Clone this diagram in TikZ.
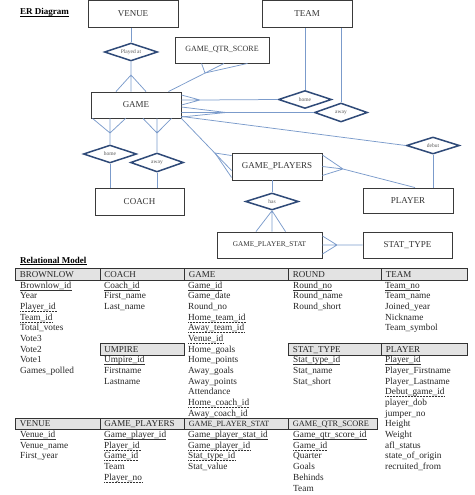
\documentclass[tikz,border=0pt]{standalone}
\usepackage{fontspec}
\setmainfont{Liberation Serif}
\usetikzlibrary{shapes.geometric,calc}
\definecolor{conn}{HTML}{7B9BCB}
\definecolor{dia}{HTML}{2F4A78}
\definecolor{boxc}{HTML}{3A3A3A}
\newcommand\tcol[4]{%
  \foreach \s/\t [count=\i from #3] in {#4} {
    \node[cell,\s] (#1\i) at (#2,{277.4+10.68*\i}) {\t};
  }}
\begin{document}
\begin{tikzpicture}[x=1pt,y=-1pt,
  ent/.style={draw=boxc,line width=0.9pt,fill=white,text=black!80,inner sep=0pt,font=\fontsize{9}{10}\selectfont},
  rel/.style={diamond,aspect=3,draw=dia,line width=1.5pt,fill=white,inner sep=0pt,text=black!65,minimum width=53pt,minimum height=18pt,font=\fontsize{5.5}{6}\selectfont},
  ln/.style={draw=conn,line width=0.75pt},
  hdr/.style={anchor=base west,draw=black!80,fill=gray!22,line width=0.9pt,inner xsep=4.5pt,inner ysep=1.5pt,text height=7pt,text depth=1.5pt,align=left,text=black!85,font=\fontsize{9}{10}\selectfont},
  cell/.style={anchor=base west,inner sep=0pt,text=black!85,font=\fontsize{9.3}{10}\selectfont},
  plain/.style={},
  pkey/.style={append after command={([yshift=-1.7pt]\tikzlastnode.base west) edge[draw=black!80,line width=0.45pt] ([yshift=-1.7pt]\tikzlastnode.base east)}},
  fkey/.style={append after command={([yshift=-1.7pt]\tikzlastnode.base west) edge[draw=black!80,line width=0.5pt,dash pattern=on 0.6pt off 0.9pt] ([yshift=-1.7pt]\tikzlastnode.base east)}},
  ttl/.style={anchor=base west,inner sep=0pt,text=black,font=\bfseries\fontsize{9}{10}\selectfont,
    append after command={([yshift=-1.6pt]\tikzlastnode.base west) edge[draw=black,line width=0.6pt] ([yshift=-1.6pt]\tikzlastnode.base east)}}]
\useasboundingbox (0,0) rectangle (474,495);

% ---------- ER diagram ----------
\node[ttl] (erlabel) at (20,15) {ER Diagram};

\node[ent,minimum width=90pt,minimum height=27pt] (venue) at (133,14) {VENUE};
\node[ent,minimum width=90pt,minimum height=27pt] (team) at (307,14) {TEAM};
\node[ent,minimum width=94pt,minimum height=26pt,font=\fontsize{8}{9}\selectfont] (qtr) at (222,50) {GAME\_QTR\_SCORE};
\node[ent,minimum width=90pt,minimum height=26pt] (game) at (136,105) {GAME};
\node[ent,minimum width=90pt,minimum height=27pt] (gp) at (277,166.5) {GAME\_PLAYERS};
\node[ent,minimum width=90pt,minimum height=25pt] (player) at (408,200.5) {PLAYER};
\node[ent,minimum width=89pt,minimum height=27pt] (coach) at (139.5,201.5) {COACH};
\node[ent,minimum width=105pt,minimum height=26pt,font=\fontsize{7.3}{8}\selectfont] (gps) at (269.5,245) {GAME\_PLAYER\_STAT};
\node[ent,minimum width=89pt,minimum height=26pt] (stype) at (407.5,245) {STAT\_TYPE};

\node[rel] (playedat) at (131,52) {Played at};
\node[rel] (homeR) at (305,99.5) {home};
\node[rel,minimum height=19pt] (awayR) at (341,112.5) {away};
\node[rel,minimum height=17pt] (debut) at (433,145.5) {debut};
\node[rel] (homeL) at (110,154) {home};
\node[rel,minimum height=19pt] (awayL) at (157,162.5) {away};
\node[rel,minimum height=17pt] (has) at (272,201.5) {has};

% VENUE - played at - GAME
\draw[ln] (venue.south -| playedat.north) -- (playedat.north);
\coordinate (f1) at (131,75);
\draw[ln] (playedat.south) -- (f1) (f1) -- ($(game.north)+(-20,0)$) (f1) -- (game.north -| f1) (f1) -- ($(game.north)+(10,0)$);
% GAME - GAME_QTR_SCORE
\coordinate (f2) at (205,73);
\draw[ln] ($(game.north east)+(-13,0)$) -- ($(qtr.south)+(2,0)$);
\draw[ln] (f2) -- ($(qtr.south west)+(27,0)$) (f2) -- ($(qtr.south east)+(-22,0)$);
% TEAM - home/away
\draw[ln] (homeR.north) -- (homeR.north |- team.south);
\draw[ln] (awayR.north) -- (awayR.north |- team.south);
\coordinate (f3) at (200,100);
\draw[ln] (homeR.west) -- (f3) -- ($(game.east)+(0,-5)$) (f3) -- ($(game.east)+(0,-10)$) (f3) -- (game.east);
\coordinate (f4) at (226,112.5);
\draw[ln] (awayR.west) -- (f4) -- ($(game.east)+(0,7.5)$) (f4) -- ($(game.east)+(0,2)$) (f4) -- ($(game.east)+(0,12)$);
% debut
\draw[ln] (debut.west) -- ($(game.south east)+(0,-2)$);
\draw[ln] (debut.south) -- (debut.south |- player.north);
% GAME - GAME_PLAYERS
\coordinate (f6) at (215,153);
\draw[ln] (game.south east) -- ($(gp.west)+(0,4)$);
\draw[ln] (f6) -- ($(gp.north west)+(0,3)$) (f6) -- ($(gp.south west)+(0,-3)$);
% GAME - coach
\coordinate (f7) at (110,133);
\draw[ln] (homeL.north) -- (f7) (f7) -- ($(game.south west)+(2,0)$) (f7) -- (game.south -| f7) (f7) -- ($(game.south west)+(35,0)$);
\coordinate (f8) at (157,133);
\draw[ln] (awayL.north) -- (f8) (f8) -- ($(game.south)+(7,0)$) (f8) -- (game.south -| f8) (f8) -- ($(game.south east)+(-10,0)$);
\draw[ln] (homeL.south) -- (homeL.south |- coach.north);
\draw[ln] (awayL.south) -- (awayL.south |- coach.north);
% GAME_PLAYERS - PLAYER
\coordinate (f9) at (343,169);
\draw[ln] (f9) -- ($(player.north)+(7,0)$) (f9) -- ($(gp.north east)+(0,2.5)$) (f9) -- (gp.east) (f9) -- ($(gp.south east)+(0,-5)$);
% has
\draw[ln] (gp.south -| has.north) -- (has.north);
\draw[ln] (has.south) -- ($(gps.north)+(-13.5,0)$) (has.south) -- (gps.north -| has.south) (has.south) -- ($(gps.north)+(16,0)$);
% GAME_PLAYER_STAT - STAT_TYPE
\coordinate (f10) at (337,245);
\draw[ln] (f10) -- (stype.west) (f10) -- ($(gps.east)+(0,-9)$) (f10) -- (gps.east) (f10) -- ($(gps.east)+(0,9)$);

% ---------- Relational model ----------
\node[ttl] (rmlabel) at (20,263) {Relational Model};

\node[hdr,text width=75.5pt] (hbrown) at (15,277.4) {BROWNLOW};
\node[hdr,text width=75.5pt] (hcoach) at (99.5,277.4) {COACH};
\node[hdr,text width=95pt] (hgame) at (184,277.4) {GAME};
\node[hdr,text width=84pt] (hround) at (288,277.4) {ROUND};
\node[hdr,text width=77pt] (hteam) at (381,277.4) {TEAM};

\node[hdr,text width=75.5pt] (humpire) at (99.5,352.16) {UMPIRE};
\node[hdr,text width=84pt] (hstat) at (288,352.16) {STAT\_TYPE};
\node[hdr,text width=77pt] (hplayer) at (381,352.16) {PLAYER};

\node[hdr,text width=75.5pt] (hvenue) at (15,426.92) {VENUE};
\node[hdr,text width=75.5pt] (hgp) at (99.5,426.92) {GAME\_PLAYERS};
\node[hdr,text width=95pt,font=\fontsize{8}{9}\selectfont] (hgps) at (184,426.92) {GAME\_PLAYER\_STAT};
\node[hdr,text width=80pt,font=\fontsize{8.3}{9}\selectfont] (hgqs) at (288,426.92) {GAME\_QTR\_SCORE};

\tcol{b}{20}{1}{pkey/Brownlow\_id,plain/Year,fkey/Player\_id,fkey/Team\_id,plain/Total\_votes,plain/Vote3,plain/Vote2,plain/Vote1,plain/Games\_polled}
\tcol{co}{104}{1}{pkey/Coach\_id,plain/First\_name,plain/Last\_name}
\tcol{um}{104}{8}{pkey/Umpire\_id,plain/Firstname,plain/Lastname}
\tcol{ga}{188}{1}{pkey/Game\_id,plain/Game\_date,plain/Round\_no,fkey/Home\_team\_id,fkey/Away\_team\_id,fkey/Venue\_id,plain/Home\_goals,plain/Home\_points,plain/Away\_goals,plain/Away\_points,plain/Attendance,fkey/Home\_coach\_id,fkey/Away\_coach\_id}
\tcol{ro}{293}{1}{pkey/Round\_no,plain/Round\_name,plain/Round\_short}
\tcol{st}{293}{8}{pkey/Stat\_type\_id,plain/Stat\_name,plain/Stat\_short}
\tcol{te}{385}{1}{pkey/Team\_no,plain/Team\_name,plain/Joined\_year,plain/Nickname,plain/Team\_symbol}
\tcol{pl}{385}{8}{pkey/Player\_id,plain/Player\_Firstname,plain/Player\_Lastname,fkey/Debut\_game\_id,plain/player\_dob,plain/jumper\_no,plain/Height,plain/Weight,plain/afl\_status,plain/state\_of\_origin,plain/recruited\_from}
\tcol{ve}{20}{15}{pkey/Venue\_id,plain/Venue\_name,plain/First\_year}
\tcol{gl}{104}{15}{pkey/Game\_player\_id,fkey/Player\_id,fkey/Game\_id,plain/Team,fkey/Player\_no}
\tcol{gs}{188}{15}{pkey/Game\_player\_stat\_id,fkey/Game\_player\_id,fkey/Stat\_type\_id,plain/Stat\_value}
\tcol{gq}{293}{15}{pkey/Game\_qtr\_score\_id,fkey/Game\_id,plain/Quarter,plain/Goals,plain/Behinds,plain/Team}
\end{tikzpicture}
\end{document}
